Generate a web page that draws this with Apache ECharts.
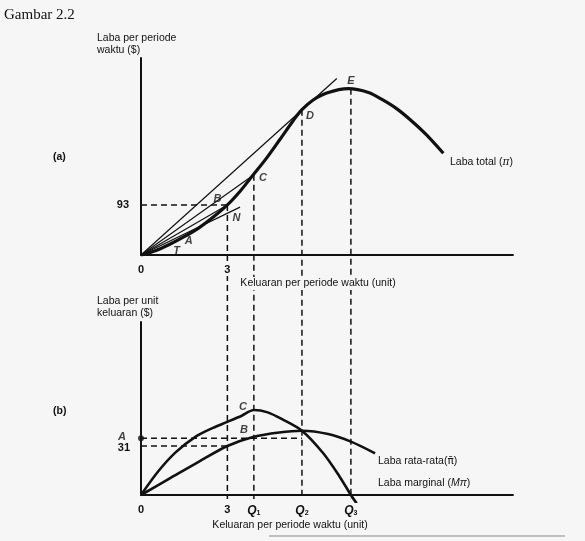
<!DOCTYPE html>
<html>
<head>
<meta charset="utf-8">
<script src="https://cdn.jsdelivr.net/npm/echarts@6/dist/echarts.min.js"></script>
<style>
  html, body { margin: 0; padding: 0; background: #f6f6f6; }
  #chart { width: 585px; height: 541px; }
</style>
</head>
<body>
<div id="chart"></div>
<script>
// panel (a): total profit curve
var totalQ = [0, 0.5, 1, 1.5, 2, 2.5, 3, 3.45, 3.9, 4.36, 4.83, 5.29, 5.59, 5.98, 6.45, 7.2, 7.9, 8.4, 8.9, 9.4, 9.9, 10.5];
var totalVal = [0, 8, 20, 34, 50, 70, 93, 119, 149, 180, 215, 250, 270, 288, 301, 309, 302, 288, 271, 249, 224, 189];

// panel (b): average and marginal profit
var avgQ = [0, 1, 2, 3, 3.92, 4.8, 5.59, 6.5, 7.29, 8.13];
var avgVal = [0, 10.5, 21, 31, 36.9, 39.6, 40.7, 38.6, 33.8, 26.4];
var margQ = [0, 0.6, 1.2, 1.9, 2.5, 3, 3.5, 3.92, 4.4, 4.9, 5.59, 6.33, 6.9, 7.29, 7.49];
var margVal = [0, 15, 27, 37, 42.5, 46.3, 50.2, 53.8, 52.3, 48, 40.7, 26.4, 11.6, 0, -5.3];

// special outputs: 3, Q1, Q2, Q3
var keyQ = [3, 3.92, 5.59, 7.29];
var keyTotal = [93, 149, 270, 309];   // B, C, D, E on the total curve
var avgMaxA = 35.9;                   // level of A on the lower y axis
var avgAt3 = 31;

// rays from the origin (end points)
var rayEnds = [[6.8, 328], [3.92, 149], [3, 93], [3.44, 89]];

// letters on the curves: [label, q, value]
var topLetters = [['E', 7.29, 309], ['D', 5.59, 270], ['C', 3.92, 149], ['B', 3, 93], ['N', 3, 77.6], ['A', 1.45, 37], ['T', 1.2, 0]];
var botLetters = [['C', 3.92, 53.8], ['B', 3.92, 36.9], ['A', 0, 35.9]];

var xTopTicks = [0, 3];
var xBotTicks = [0, 3, 3.92, 5.59, 7.29];
var xBotNames = { 0: '0', 3: '3', 3.92: '{q|Q}{s|1}', 5.59: '{q|Q}{s|2}', 7.29: '{q|Q}{s|3}' };

var FONT = 'Liberation Sans';
var INK = '#111';
var BG = '#f6f6f6';

var letterOffsets = {
  top: { E: [0, -8], D: [8, 6], C: [9, 3], B: [-10, -6], N: [9, 5], A: [6, 6], T: [1, -4] },
  bot: { C: [-11, -3], B: [-10, -7], A: [-19, -1] }
};

var chart = echarts.init(document.getElementById('chart'));

function zip(xs, ys) { return xs.map(function (x, i) { return [x, ys[i]]; }); }

function letterSeries(list, grid, offs) {
  return {
    type: 'scatter', xAxisIndex: grid, yAxisIndex: grid, symbolSize: 0, z: 6, clip: false,
    data: list.map(function (d) {
      return {
        value: [d[1], d[2]],
        label: { show: true, formatter: d[0], position: 'inside', offset: offs[d[0]] }
      };
    }),
    label: { color: INK, fontFamily: FONT, fontSize: 11, fontWeight: 'bold', fontStyle: 'italic' }
  };
}

var thin = { color: INK, width: 1.2 };
var dashed = { color: INK, width: 1.5, type: [6, 4] };
var curve = { type: 'line', smooth: 0.3, symbol: 'none', clip: false, z: 4 };

var series = [];
rayEnds.forEach(function (e) {
  series.push({ type: 'line', xAxisIndex: 0, yAxisIndex: 0, data: [[0, 0], e], symbol: 'none', lineStyle: thin, z: 3 });
});
series.push(Object.assign({ xAxisIndex: 0, yAxisIndex: 0, data: zip(totalQ, totalVal), lineStyle: { color: INK, width: 3.2 } }, curve));
series.push({ type: 'line', xAxisIndex: 0, yAxisIndex: 0, data: [[0, keyTotal[0]], [keyQ[0], keyTotal[0]]], symbol: 'none', lineStyle: dashed });
series.push(Object.assign({ xAxisIndex: 1, yAxisIndex: 1, data: zip(avgQ, avgVal), lineStyle: { color: INK, width: 2.6 } }, curve));
series.push(Object.assign({ xAxisIndex: 1, yAxisIndex: 1, data: zip(margQ, margVal), lineStyle: { color: INK, width: 2.6 } }, curve));
series.push({ type: 'line', xAxisIndex: 1, yAxisIndex: 1, data: [[0, avgMaxA], [keyQ[2], avgMaxA]], symbol: 'none', lineStyle: dashed });
series.push({ type: 'line', xAxisIndex: 1, yAxisIndex: 1, data: [[0, avgAt3], [keyQ[0], avgAt3]], symbol: 'none', lineStyle: dashed });
series.push({ type: 'scatter', xAxisIndex: 1, yAxisIndex: 1, data: [[0, avgMaxA]], symbolSize: 6, itemStyle: { color: INK }, clip: false, z: 6 });
series.push(letterSeries(topLetters, 0, letterOffsets.top));
series.push(letterSeries(botLetters, 1, letterOffsets.bot));

var axisLine = { lineStyle: { color: INK, width: 1.8 } };
var tickFont = { color: INK, fontFamily: FONT, fontSize: 11, fontWeight: 'bold' };
var nameFont = { color: INK, fontFamily: FONT, fontSize: 10.5 };

chart.setOption({
  backgroundColor: BG,
  animation: false,
  grid: [
    { left: 141, right: 72, top: 58, bottom: 286 },
    { left: 141, right: 72, top: 322, bottom: 46 }
  ],
  xAxis: [
    {
      type: 'value', gridIndex: 0, min: 0, max: 12.92, z: 5,
      axisLine: axisLine, axisTick: { show: false }, splitLine: { show: false },
      axisLabel: Object.assign({ customValues: xTopTicks, margin: 8, backgroundColor: BG, padding: [1, 2] }, tickFont),
      name: 'Keluaran per periode waktu (unit)', nameLocation: 'middle', nameGap: 20,
      nameTextStyle: Object.assign({ padding: [1, 20, 1, 2], backgroundColor: BG }, nameFont)
    },
    {
      type: 'value', gridIndex: 1, min: 0, max: 12.92, z: 5,
      axisLine: axisLine, axisTick: { show: false }, splitLine: { show: false },
      axisLabel: Object.assign({
        customValues: xBotTicks, margin: 8, backgroundColor: BG, padding: [1, 2],
        formatter: function (v) { return xBotNames[v]; },
        rich: {
          q: { fontFamily: FONT, fontSize: 12, fontWeight: 'bold', fontStyle: 'italic', color: INK },
          s: { fontFamily: FONT, fontSize: 7, fontWeight: 'bold', color: INK, verticalAlign: 'bottom', padding: [6, 0, 0, 0] }
        }
      }, tickFont),
      name: 'Keluaran per periode waktu (unit)', nameLocation: 'middle', nameGap: 25,
      nameTextStyle: Object.assign({ padding: [0, 74, 0, 0] }, nameFont)
    }
  ],
  yAxis: [
    {
      type: 'value', gridIndex: 0, min: 0, max: 366, z: 5,
      axisLine: { lineStyle: { color: INK, width: 2 } }, axisTick: { show: false }, splitLine: { show: false },
      axisLabel: Object.assign({ customValues: [keyTotal[0]], margin: 12 }, tickFont)
    },
    {
      type: 'value', gridIndex: 1, min: 0, max: 109.5, z: 5,
      axisLine: { lineStyle: { color: INK, width: 2 } }, axisTick: { show: false }, splitLine: { show: false },
      axisLabel: Object.assign({ customValues: [avgAt3], margin: 11, verticalAlign: 'top', padding: [-4, 0, 0, 0] }, tickFont)
    }
  ],
  series: series
});

// vertical guide lines run from the upper curve down to the lower axis
var guides = keyQ.map(function (q, i) {
  var p0 = chart.convertToPixel({ gridIndex: 0 }, [q, keyTotal[i]]);
  var p1 = chart.convertToPixel({ gridIndex: 1 }, [q, 0]);
  return {
    type: 'line', z: 1, silent: true,
    shape: { x1: p0[0], y1: p0[1], x2: p1[0], y2: p1[1] + 4 },
    style: { stroke: INK, lineWidth: 1.5, lineDash: [6, 4] }
  };
});

function txt(x, y, s, extra) {
  return {
    type: 'text', x: x, y: y, z: 10, silent: true,
    style: Object.assign({ text: s, fill: INK, font: '10.5px "' + FONT + '"', textVerticalAlign: 'middle' }, extra || {})
  };
}

chart.setOption({
  graphic: guides.concat([
    txt(4, 15, 'Gambar 2.2', { font: '15px "Liberation Serif"' }),
    txt(97, 38, 'Laba per periode'),
    txt(97, 50, 'waktu ($)'),
    txt(97, 301, 'Laba per unit'),
    txt(97, 313, 'keluaran ($)'),
    txt(53, 157, '(a)', { font: 'bold 10.5px "' + FONT + '"' }),
    txt(53, 411, '(b)', { font: 'bold 10.5px "' + FONT + '"' }),
    {
      type: 'text', x: 450, y: 162, z: 10, silent: true,
      style: {
        text: '{n|Laba total (}{p|π}{n|)}', textVerticalAlign: 'middle',
        rich: { n: { fill: INK, font: '10.5px "' + FONT + '"' }, p: { fill: INK, font: 'italic 10.5px "DejaVu Serif"' } }
      }
    },
    {
      type: 'text', x: 378, y: 461, z: 10, silent: true,
      style: {
        text: '{n|Laba rata-rata(}{p|π\u0304}{n|)}', textVerticalAlign: 'middle',
        rich: { n: { fill: INK, font: '10.5px "' + FONT + '"' }, p: { fill: INK, font: '10.5px "DejaVu Sans"' } }
      }
    },
    {
      type: 'text', x: 378, y: 483, z: 10, silent: true,
      style: {
        text: '{n|Laba marginal (}{p|Mπ}{n|)}', textVerticalAlign: 'middle',
        rich: { n: { fill: INK, font: '10.5px "' + FONT + '"' }, p: { fill: INK, font: 'italic 10.5px "' + FONT + '"' } }
      }
    },
    {
      type: 'line', silent: true, z: 10,
      shape: { x1: 269, y1: 536, x2: 565, y2: 536 },
      style: { stroke: '#8a8a8a', lineWidth: 1 }
    }
  ])
});
</script>
</body>
</html>
